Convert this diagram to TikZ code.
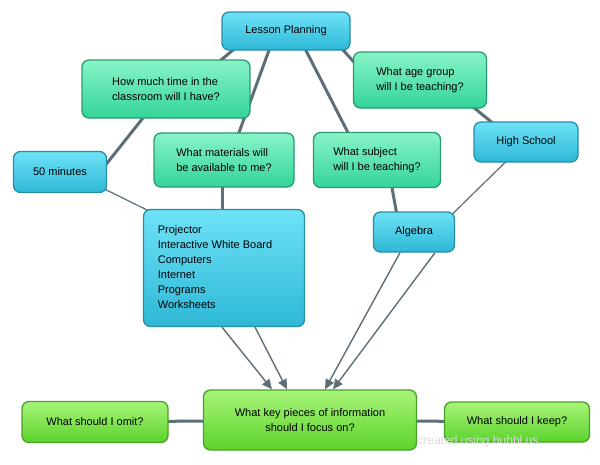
\documentclass[tikz,border=0pt]{standalone}
\usepackage{fontspec}
\setmainfont{Liberation Sans}
\usetikzlibrary{arrows.meta,backgrounds}
\definecolor{cyanA}{HTML}{6EE2F8}
\definecolor{cyanB}{HTML}{2EB8D6}
\definecolor{cyanD}{HTML}{2A8CA6}
\definecolor{tealA}{HTML}{88F4C8}
\definecolor{tealB}{HTML}{34D49A}
\definecolor{tealD}{HTML}{2A9A70}
\definecolor{grnA}{HTML}{A8F478}
\definecolor{grnB}{HTML}{5CD32C}
\definecolor{grnD}{HTML}{48A028}
\definecolor{lineC}{HTML}{5E6E78}
\begin{document}
\begin{tikzpicture}[x=1pt,y=-1pt,
 box/.style={rounded corners=7pt,line width=1.3pt,font=\fontsize{11}{15}\selectfont,align=left,inner sep=0pt,anchor=center},
 cy/.style={box,draw=cyanD,top color=cyanA,bottom color=cyanB},
 te/.style={box,draw=tealD,top color=tealA,bottom color=tealB},
 gr/.style={box,draw=grnD,top color=grnA,bottom color=grnB},
 thick line/.style={draw=lineC,line width=3pt},
 thin line/.style={draw=lineC,line width=1.2pt},
 arr/.style={draw=lineC,line width=1.4pt,-{Triangle[length=10pt,width=9pt]}}]
\useasboundingbox (0,0) rectangle (600,464);
\node[cy,minimum width=128pt,minimum height=38pt] (lp) at (286,31) {Lesson Planning};
\node[te,minimum width=168pt,minimum height=58pt] (time) at (166,89) {How much time in the\\classroom will I have?};
\node[te,minimum width=133pt,minimum height=56pt] (age) at (420,80) {What age group\\will I be teaching?};
\node[cy,minimum width=93pt,minimum height=41pt] (min) at (60,172) {50 minutes};
\node[te,minimum width=140pt,minimum height=54pt] (mat) at (224,160) {What materials will\\be available to me?};
\node[te,minimum width=127pt,minimum height=55pt] (sub) at (377,160) {What subject\\will I be teaching?};
\node[cy,minimum width=104pt,minimum height=40pt] (hs) at (526,142) {High School};
\node[cy,minimum width=161pt,minimum height=117pt] (proj) at (224,268) {\raisebox{6pt}{\begin{tabular}{@{}l@{}}Projector\\Interactive White Board\\Computers\\Internet\\Programs\\Worksheets\end{tabular}}\hspace*{18pt}};
\node[cy,minimum width=81pt,minimum height=40pt] (alg) at (414,232) {Algebra};
\node[gr,minimum width=213pt,minimum height=60pt,align=center] (key) at (310,420) {What key pieces of information\\should I focus on?};
\node[gr,minimum width=146pt,minimum height=41pt] (omit) at (95,422) {What should I omit?};
\node[gr,minimum width=145pt,minimum height=40pt] (keep) at (517,422) {What should I keep?};
\node[text=black!14,font=\fontsize{12}{14}\selectfont] (wm) at (478,441) {created using bubbl.us};
\begin{scope}[on background layer]
\draw[thick line] ([xshift=-30pt]lp.center) -- ([xshift=20pt]time.center);
\draw[thick line] ([xshift=-10pt]lp.center) -- ([xshift=5pt]mat.center);
\draw[thick line] ([xshift=10pt]lp.center) -- ([xshift=-15pt]sub.center);
\draw[thick line] ([xshift=40pt]lp.center) -- ([xshift=-50pt]age.center);
\draw[thick line] (time.center) -- ([xshift=40pt]min.center);
\draw[thick line] ([xshift=20pt]age.center) -- ([xshift=-10pt]hs.center);
\draw[thick line] ([xshift=-2pt]mat.center) -- ([xshift=-2pt]proj.center);
\draw[thick line] ([xshift=10pt]sub.center) -- ([xshift=-14pt]alg.center);
\draw[thin line] ([xshift=10pt]min.center) -- ([yshift=20pt]proj.center);
\draw[thin line] (hs.center) -- ([xshift=20pt]alg.center);
\draw[thick line] (omit.center) -- (key.center);
\draw[thick line] (key.center) -- (keep.center);
\end{scope}
\draw[arr] ([xshift=-2pt]proj.south) -- ([xshift=-38pt]key.north);
\draw[arr] ([xshift=31pt]proj.south) -- ([xshift=-23pt]key.north);
\draw[arr] ([xshift=-14pt]alg.south) -- ([xshift=15pt]key.north);
\draw[arr] ([xshift=21pt]alg.south) -- ([xshift=23pt]key.north);
\end{tikzpicture}
\end{document}
